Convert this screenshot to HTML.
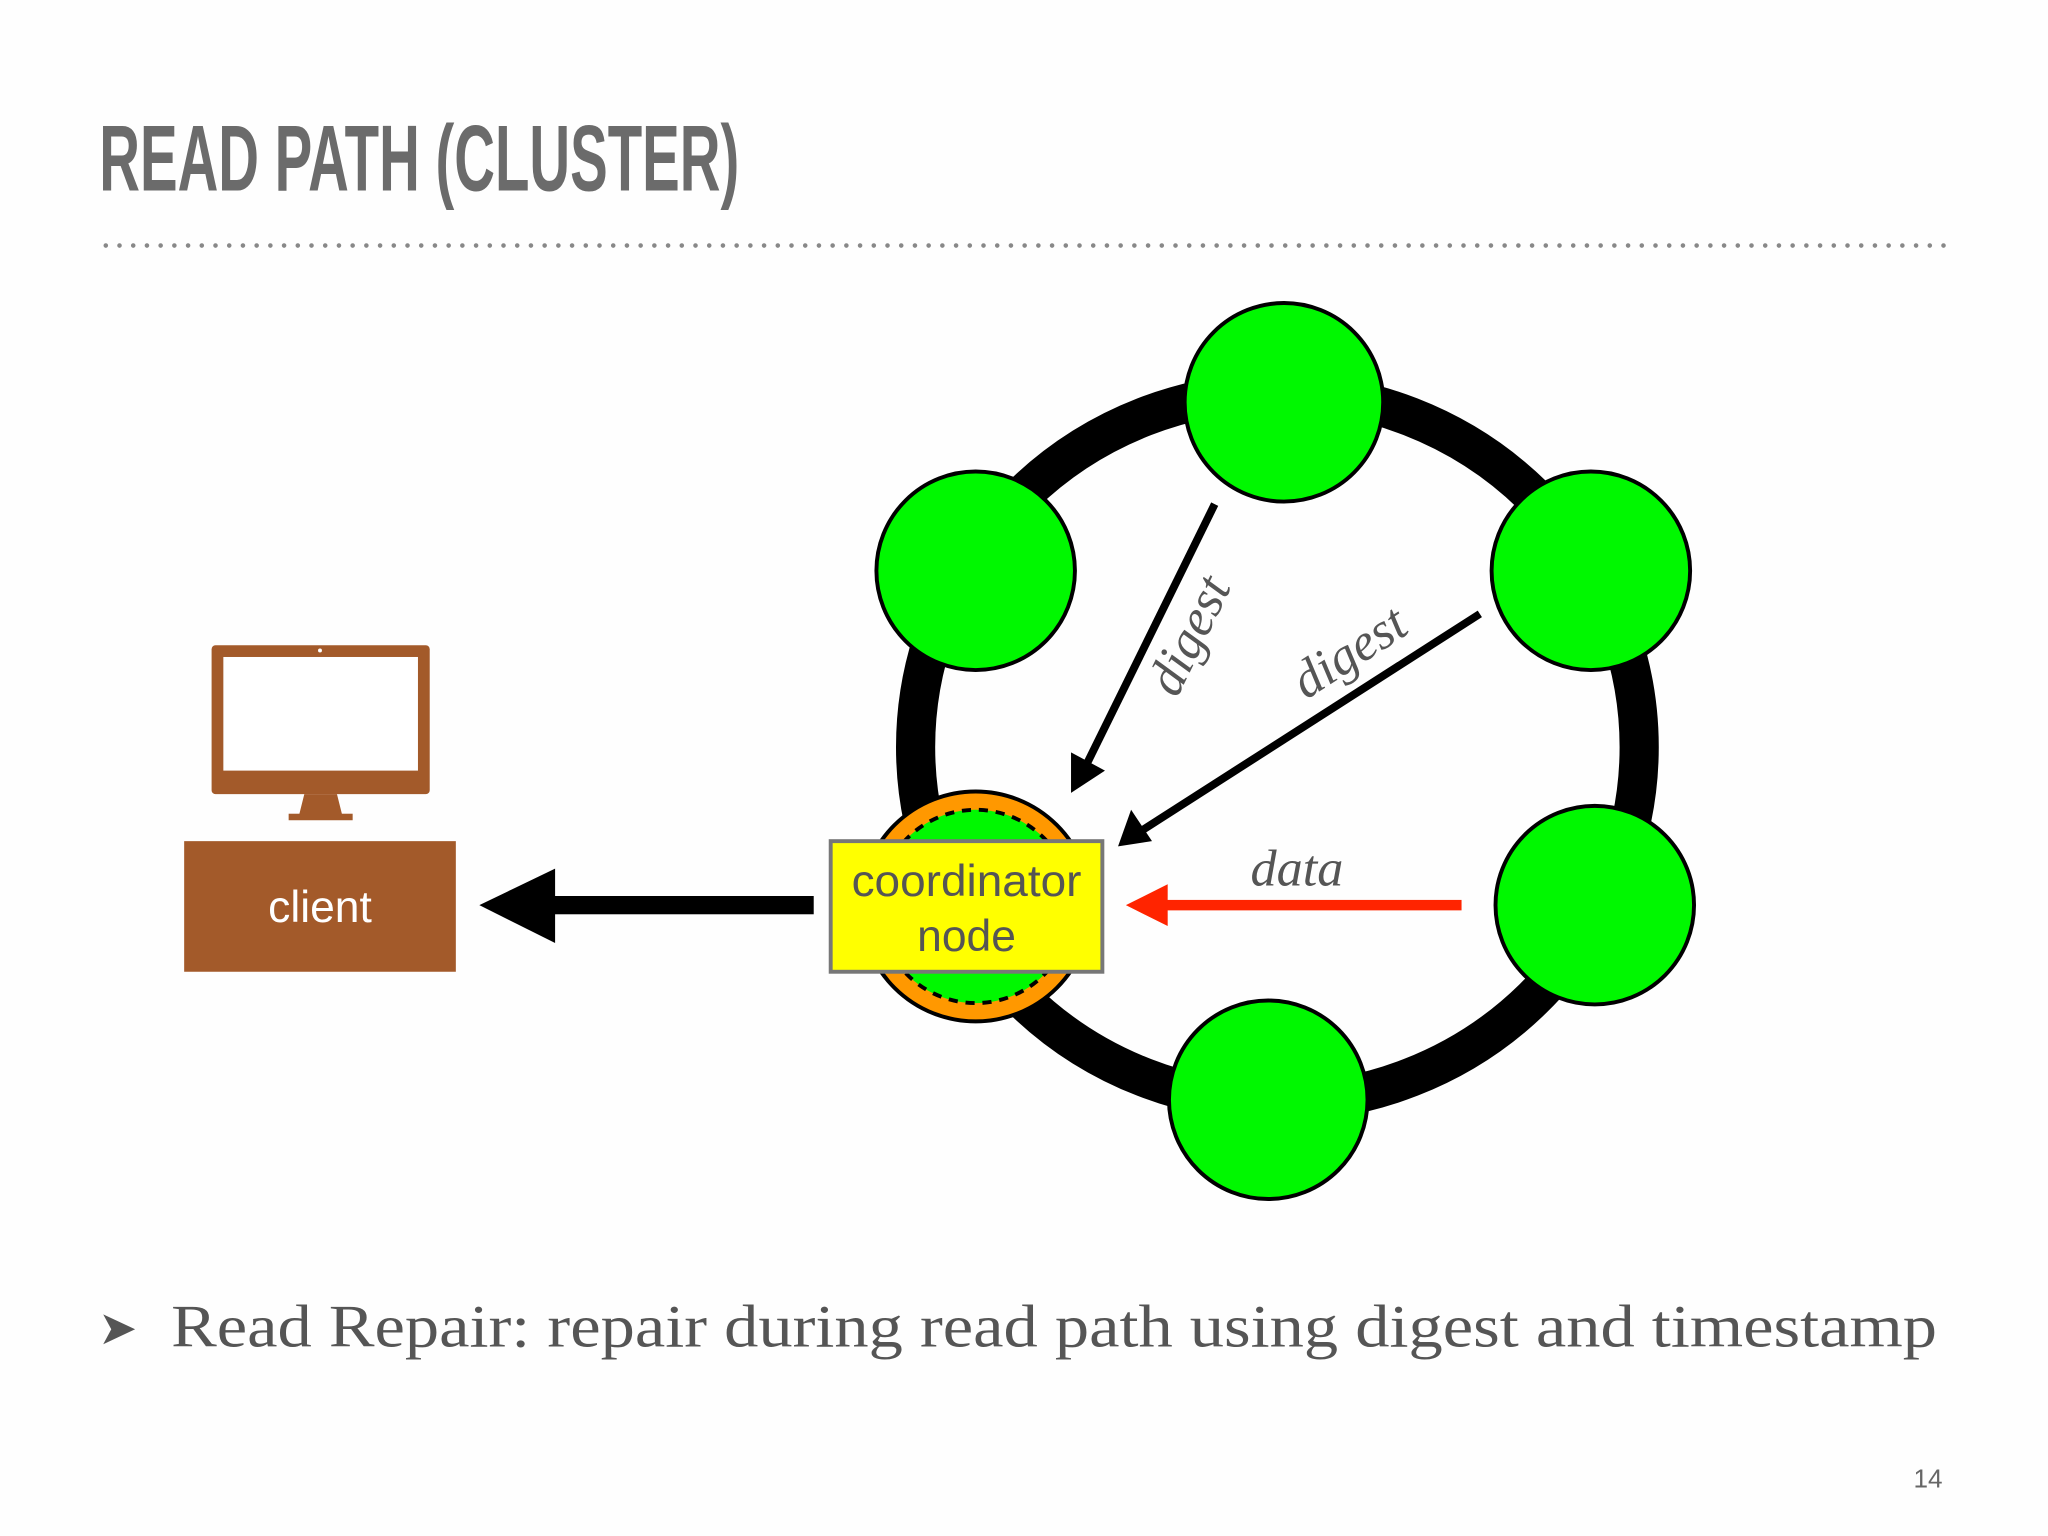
<!DOCTYPE html>
<html><head><meta charset="utf-8"><style>
html,body{margin:0;padding:0;background:#fefefe;width:2048px;height:1536px;overflow:hidden}
svg{display:block}
</style></head><body>
<svg width="2048" height="1536" viewBox="0 0 1568 1176" xmlns="http://www.w3.org/2000/svg">
<rect width="1568" height="1176" fill="#fefefe"/>
<text x="76" y="146" font-family="Liberation Sans Narrow, Liberation Sans, sans-serif" font-weight="bold" font-size="72" fill="#6b6b6b" textLength="490" lengthAdjust="spacingAndGlyphs">READ PATH (CLUSTER)</text>
<line x1="81" y1="188" x2="1492" y2="188" stroke="#888" stroke-width="3.5" stroke-dasharray="0 10.5" stroke-linecap="round"/>
<ellipse cx="978" cy="572" rx="277" ry="272" fill="none" stroke="#000" stroke-width="30"/>
<g fill="#00f800" stroke="#000" stroke-width="3">
<circle cx="983" cy="308" r="76"/>
<circle cx="747" cy="437" r="76"/>
<circle cx="1218" cy="437" r="76"/>
<circle cx="1221" cy="693" r="76"/>
<circle cx="971" cy="842" r="76"/>
</g>
<circle cx="747" cy="694" r="88" fill="#ff9800" stroke="#000" stroke-width="3"/>
<circle cx="747" cy="694" r="74" fill="#00f800" stroke="#000" stroke-width="3" stroke-dasharray="7 6"/>
<rect x="636" y="644" width="208" height="100" fill="#ffff00" stroke="#777" stroke-width="3"/>
<text x="740" y="686" text-anchor="middle" font-family="Liberation Sans Narrow, Liberation Sans, sans-serif" font-size="34" fill="#555" textLength="176" lengthAdjust="spacingAndGlyphs">coordinator</text>
<text x="740" y="728" text-anchor="middle" font-family="Liberation Sans Narrow, Liberation Sans, sans-serif" font-size="34" fill="#555">node</text>
<!-- client -->
<rect x="162" y="494" width="167" height="114" rx="3" fill="#a35a2a"/>
<rect x="171" y="503" width="149" height="87" fill="#fff"/>
<circle cx="245" cy="498" r="1.5" fill="#fff"/>
<polygon points="233,608 258,608 262,624 229,624" fill="#a35a2a"/>
<rect x="221" y="623" width="49" height="5" fill="#a35a2a"/>
<rect x="141" y="644" width="208" height="100" fill="#a35a2a"/>
<text x="245" y="706" text-anchor="middle" font-family="Liberation Sans Narrow, Liberation Sans, sans-serif" font-size="34" fill="#fff">client</text>
<!-- arrows -->
<rect x="420" y="686" width="203" height="14" fill="#000"/>
<polygon points="367,693 425,665 425,722" fill="#000"/>
<line x1="930" y1="386" x2="832" y2="585" stroke="#000" stroke-width="6"/>
<polygon points="820,607 820,576 846,590" fill="#000"/>
<line x1="1133" y1="470" x2="874" y2="636" stroke="#000" stroke-width="6"/>
<polygon points="856,648 866,620 882,644" fill="#000"/>
<rect x="885" y="689" width="234" height="8" fill="#ff2400"/>
<polygon points="862,693 894,677 894,709" fill="#ff2400"/>
<g font-family="Liberation Serif, serif" font-style="italic" font-size="40" fill="#555">
<text x="0" y="0" text-anchor="middle" transform="translate(922,492) rotate(-64)">digest</text>
<text x="0" y="0" text-anchor="middle" transform="translate(1040,510) rotate(-33)">digest</text>
<text x="993" y="678" text-anchor="middle">data</text>
</g>
<text x="75" y="1029" font-family="DejaVu Sans, sans-serif" font-size="36" fill="#555">➤</text>
<text x="131" y="1031" font-family="Liberation Serif, serif" font-size="46" fill="#555" textLength="1352" lengthAdjust="spacingAndGlyphs">Read Repair: repair during read path using digest and timestamp</text>
<text x="1465" y="1139" font-family="Liberation Sans Narrow, Liberation Sans, sans-serif" font-size="20" fill="#666">14</text>
</svg>
</body></html>
